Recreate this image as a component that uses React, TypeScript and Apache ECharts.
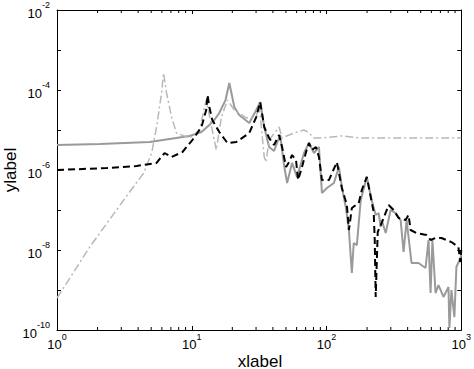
import React, { useEffect, useRef } from 'react';
import * as echarts from 'echarts';

// Solid gray response
const grayFreq = [1, 2.08, 4.87, 9.61, 11.8, 13.5, 14.7, 16.0, 17.8, 19.0, 20.7, 22.5, 26.7, 30.1, 32.2, 34.5, 37.5, 40.8, 45.3, 48.4, 51.0, 55.5, 60.4, 68.1, 74.1, 80.7, 87.9, 92.5, 100.7, 113.5, 123.6, 130.0, 139.0, 146.6, 154.2, 159.2, 167.9, 179.5, 199.1, 216.3, 231.7, 243.8, 252.5, 256.6, 274.8, 299.2, 325.8, 354.8, 373.3, 392.9, 427.6, 481.9, 543.0, 571.6, 591.6, 611.0, 644.2, 677.6, 737.9, 803.5, 816.6, 845.3, 889.2, 920.4, 984.0, 1000];
const grayAmp = [4.22e-6, 4.47e-6, 5.0e-6, 7.1e-6, 8.9e-6, 1.33e-5, 1.78e-5, 2.66e-5, 5.6e-5, 1.5e-4, 3.76e-5, 2.37e-5, 1.5e-5, 3.16e-5, 5.0e-5, 1.19e-5, 3.76e-6, 2.99e-6, 7.5e-6, 1.33e-6, 4.73e-7, 1.5e-6, 6.7e-7, 2.66e-6, 4.73e-6, 2.66e-6, 3.76e-6, 2.66e-7, 3.55e-7, 4.73e-7, 1.19e-6, 3.76e-7, 1.19e-7, 3.16e-8, 2.66e-9, 1.5e-8, 1.33e-8, 1.78e-7, 6.7e-7, 1.78e-7, 7.5e-8, 8.4e-8, 3.76e-8, 5.6e-8, 2.66e-8, 1.0e-7, 8.4e-8, 5.6e-8, 8.9e-9, 5.6e-8, 4.73e-9, 4.73e-9, 3.55e-9, 1.78e-8, 8.4e-10, 1.78e-8, 8.4e-10, 1.33e-9, 6.7e-10, 1.19e-9, 1.12e-10, 1.0e-9, 2.11e-10, 3.76e-9, 6.3e-9, 7.5e-9];

// Black dashed response
const blackFreq = [1, 2.34, 3.90, 5.48, 6.28, 7.08, 8.53, 10.1, 11.8, 12.8, 13.1, 13.5, 14.2, 16.0, 18.4, 21.4, 26.7, 30.1, 32.2, 34.5, 37.5, 40.8, 44.5, 46.8, 50.1, 52.7, 55.5, 59.4, 61.5, 65.8, 70.5, 74.1, 78.0, 83.5, 87.9, 92.5, 104.2, 119.4, 130.0, 141.6, 146.6, 154.2, 173.4, 182.8, 199.1, 212.9, 223.9, 228, 231.7, 239.9, 256.6, 289.1, 314.8, 342.8, 386.4, 406.4, 420.7, 465.6, 552.1, 591.6, 644.2, 712.9, 845.3, 952.6, 984.0, 1000];
const blackAmp = [1.0e-6, 1.12e-6, 1.26e-6, 1.5e-6, 2.66e-6, 2.11e-6, 2.82e-6, 5.6e-6, 1.19e-5, 3.16e-5, 7.5e-5, 3.76e-5, 1.78e-5, 8.9e-6, 4.73e-6, 5.0e-6, 8.4e-6, 2.11e-5, 5.0e-5, 1.19e-5, 6.3e-6, 4.22e-6, 7.5e-6, 3.76e-6, 1.19e-6, 1.58e-6, 2.37e-6, 1.78e-6, 5.6e-7, 1.19e-6, 2.82e-6, 4.73e-6, 3.16e-6, 3.76e-6, 2.11e-6, 5.6e-7, 5.6e-7, 1.58e-6, 3.55e-7, 1.33e-7, 3.16e-8, 1.12e-7, 1.5e-7, 3.16e-7, 6.7e-7, 2.11e-7, 8.9e-8, 1.78e-8, 6.7e-10, 2.82e-8, 4.73e-8, 1.33e-7, 1.0e-7, 6.3e-8, 5.6e-8, 7.5e-8, 3.16e-8, 2.66e-8, 2.37e-8, 1.78e-8, 2.0e-8, 2.0e-8, 1.58e-8, 1.19e-8, 5.0e-9, 1.0e-8];

// Light gray dash-dot response
const ddFreq = [1, 1.75, 3.13, 4.40, 5.04, 5.48, 5.97, 6.18, 6.50, 7.08, 7.71, 9.61, 11.4, 12.8, 13.5, 15.2, 16.6, 18.4, 20.7, 25.4, 30.1, 31.6, 34.5, 35.6, 37.5, 44.5, 46.8, 52.7, 60.4, 68.1, 74.1, 80.7, 92.5, 130, 182.8, 1000];
const ddAmp = [6.3e-10, 1.19e-8, 1.78e-7, 8.4e-7, 2.66e-6, 1.19e-5, 8.4e-5, 2.66e-4, 8.4e-5, 2.11e-5, 8.4e-6, 6.3e-6, 1.0e-5, 5.6e-5, 2.37e-5, 3.16e-6, 2.11e-5, 5.6e-5, 3.16e-5, 2.0e-5, 2.11e-5, 4.73e-5, 2.11e-6, 1.58e-6, 5.6e-6, 1.19e-5, 6.3e-6, 7.5e-6, 8.9e-6, 1.0e-5, 8.4e-6, 6.3e-6, 6.3e-6, 7.1e-6, 6.3e-6, 6.3e-6];

// Minor tick positions on the frequency axis
const xMinorTicks = [2, 3, 4, 5, 6, 7, 8, 9, 20, 30, 40, 50, 60, 70, 80, 90, 200, 300, 400, 500, 600, 700, 800, 900];

const X_MIN = 1;
const X_MAX = 1000;
const Y_MIN = 1e-10;
const Y_MAX = 1e-2;

const FONT = "'Liberation Sans', Arial, Helvetica, sans-serif";

const zip = (a: number[], b: number[]) => a.map((v, i) => [v, b[i]]);

const expOf = (v: number) => Math.round(Math.log10(v));

const rich = {
  b: { fontSize: 13, fontFamily: FONT, color: '#000' },
  s: { fontSize: 9, fontFamily: FONT, color: '#000', padding: [0, 0, 16, 0] },
};

export default function App() {
  const ref = useRef<HTMLDivElement>(null);

  useEffect(() => {
    if (!ref.current) return;
    const chart = echarts.init(ref.current, null, { renderer: 'svg' });

    const axisLine = { show: true, onZero: false, lineStyle: { color: '#000', width: 1 } };
    const tick = { show: true, inside: true, length: 4, lineStyle: { color: '#000', width: 1 } };

    const option: any = {
      animation: false,
      backgroundColor: '#fff',
      grid: { left: 57, top: 10, width: 406, height: 320, containLabel: false },
      xAxis: [
        {
          type: 'log', logBase: 10, min: X_MIN, max: X_MAX, position: 'bottom',
          axisLine, axisTick: tick, splitLine: { show: false },
          axisLabel: {
            margin: 2,
            formatter: (v: number) => `{b|10}{s|${expOf(v)}}`,
            rich,
            showMinLabel: true, showMaxLabel: true,
          },
        },
        {
          type: 'log', logBase: 10, min: X_MIN, max: X_MAX, position: 'top',
          axisLine, axisTick: tick, splitLine: { show: false }, axisLabel: { show: false },
        },
      ],
      yAxis: [
        {
          type: 'log', logBase: 10, min: Y_MIN, max: Y_MAX, position: 'left',
          axisLine, axisTick: tick, splitLine: { show: false },
          axisLabel: {
            margin: 7,
            padding: [6, 0, 0, 0],
            formatter: (v: number) => {
              const e = expOf(v);
              if (e % 2 !== 0) return '';
              return `{b|10}{s|${e < 0 ? '-' + Math.abs(e) : e}}`;
            },
            rich,
            showMinLabel: true, showMaxLabel: true,
          },
        },
        {
          type: 'log', logBase: 10, min: Y_MIN, max: Y_MAX, position: 'right',
          axisLine, axisTick: tick, splitLine: { show: false }, axisLabel: { show: false },
        },
      ],
      graphic: [
        {
          type: 'text', x: 260, y: 361,
          style: { text: 'xlabel', fontSize: 17, fontFamily: FONT, fill: '#000', textAlign: 'center', textVerticalAlign: 'middle' },
        },
        {
          type: 'text', x: 10, y: 170, rotation: Math.PI / 2,
          style: { text: 'ylabel', fontSize: 17, fontFamily: FONT, fill: '#000', textAlign: 'center', textVerticalAlign: 'middle' },
        },
      ],
      series: [
        {
          type: 'custom', xAxisIndex: 0, yAxisIndex: 0, silent: true, clip: false,
          data: xMinorTicks.map((v) => [v, 1e-6]),
          renderItem: (params: any, api: any) => {
            const x = api.coord([api.value(0), 1e-6])[0];
            const cs = params.coordSys;
            const yb = cs.y + cs.height;
            const yt = cs.y;
            return {
              type: 'group',
              children: [
                { type: 'line', shape: { x1: x, y1: yb, x2: x, y2: yb - 3 }, style: { stroke: '#000', lineWidth: 1 } },
                { type: 'line', shape: { x1: x, y1: yt, x2: x, y2: yt + 3 }, style: { stroke: '#000', lineWidth: 1 } },
              ],
            };
          },
        },
        {
          type: 'line', name: 'gray', xAxisIndex: 0, yAxisIndex: 0,
          data: zip(grayFreq, grayAmp), showSymbol: false, symbol: 'none',
          lineStyle: { color: '#9a9a9a', width: 2 },
        },
        {
          type: 'line', name: 'dashdot', xAxisIndex: 0, yAxisIndex: 0,
          data: zip(ddFreq, ddAmp), showSymbol: false, symbol: 'none',
          lineStyle: { color: '#b8b8b8', width: 1.5, type: [8, 3, 2, 3] },
        },
        {
          type: 'line', name: 'black', xAxisIndex: 0, yAxisIndex: 0,
          data: zip(blackFreq, blackAmp), showSymbol: false, symbol: 'none',
          lineStyle: { color: '#000', width: 2, type: [7, 4] },
        },
      ],
    };

    chart.setOption(option);
    return () => chart.dispose();
  }, []);

  return (
    <div
      ref={ref}
      style={{ position: 'fixed', left: 0, top: 0, width: 474, height: 369, background: '#fff' }}
    />
  );
}
